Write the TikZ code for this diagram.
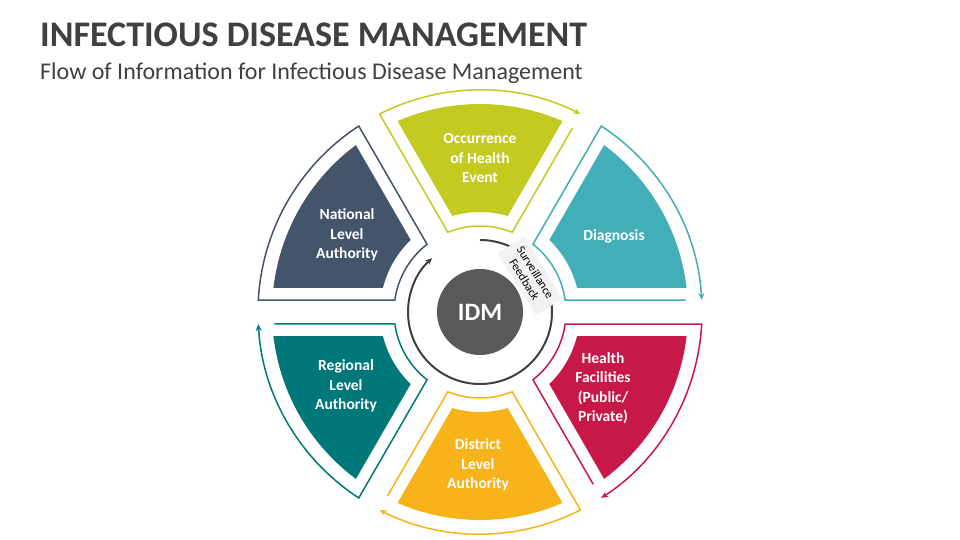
\documentclass[tikz,border=0pt]{standalone}
\usepackage{fontspec}
\setmainfont{Carlito}
\usetikzlibrary{arrows.meta,calc}
\definecolor{cOcc}{RGB}{195,203,33}
\definecolor{cDia}{RGB}{65,174,184}
\definecolor{cHea}{RGB}{200,24,74}
\definecolor{cDis}{RGB}{248,179,27}
\definecolor{cReg}{RGB}{0,120,122}
\definecolor{cNat}{RGB}{68,84,106}
\definecolor{idmgray}{RGB}{89,89,89}
\definecolor{ringgray}{RGB}{64,64,64}
\definecolor{titlegray}{RGB}{64,64,64}
\definecolor{boxgray}{RGB}{242,242,242}
\tikzset{
  seglabel/.style={text=white, align=center, font=\bfseries\fontsize{15.5}{19.5}\selectfont, inner sep=0},
  outline/.style={line width=1.5pt, -{Stealth[length=7pt,width=6pt]}},
}
\begin{document}
\begin{tikzpicture}[x=1pt,y=1pt]
\useasboundingbox (0,0) rectangle (960,-540);
\fill[white] (0,0) rectangle (960,-540);
\node[anchor=base west, font=\bfseries\fontsize{36}{40}\selectfont, text=titlegray, inner sep=0] (title) at (40,-47) {INFECTIOUS DISEASE MANAGEMENT};
\node[anchor=base west, font=\fontsize{24}{28}\selectfont, text=titlegray, inner sep=0] (subtitle) at (40,-80) {Flow of Information for Infectious Disease Management};
\begin{scope}[shift={(480,-312)}]
\foreach \c/\col in {90/cOcc,30/cDia,-30/cHea,-90/cDis,-150/cReg,150/cNat} {
  \fill[\col] (\c+30-6.63:208pt) arc[start angle=\c+30-6.63, end angle=\c-30+6.63, radius=208pt]
     -- (\c-30+13.89:100pt) arc[start angle=\c-30+13.89, end angle=\c+30-13.89, radius=100pt] -- cycle;
}
\foreach \c/\col in {90/cOcc,30/cDia,-30/cHea,-90/cDis,-150/cReg} {
  \draw[\col, outline] (\c-30+3.31:206pt) -- (\c-30+8.02:86pt)
     arc[start angle=\c-30+8.02, end angle=\c+30-8.02, radius=86pt]
     -- (\c+30-3.10:222pt)
     arc[start angle=\c+30-3.10, end angle=\c-30+3.10, radius=222pt];
}
\draw[cNat, line width=1.5pt, line join=miter] (150-30+3.10:222pt) -- (150-30+8.02:86pt)
     arc[start angle=150-30+8.02, end angle=150+30-8.02, radius=86pt]
     -- (150+30-3.10:222pt)
     arc[start angle=150+30-3.10, end angle=150-30+3.10, radius=222pt] -- cycle;
\draw[ringgray, line width=2pt, -{Stealth[length=7pt,width=6pt]}] (90:72pt) arc[start angle=90, end angle=-228.4, radius=72pt];
\node[circle, fill=idmgray, minimum size=86pt, inner sep=0, text=white, font=\bfseries\fontsize{25}{30}\selectfont] (idm) at (0,0) {IDM};
\node[fill=boxgray, rotate=-58, align=center, font=\fontsize{12}{13}\selectfont, inner xsep=7pt, inner ysep=5pt] (fb) at (50,36) {Surveillance\\Feedback};
\node[seglabel] (occ) at (0,154) {Occurrence\\of Health\\Event};
\node[seglabel] (dia) at (134,76) {Diagnosis};
\node[seglabel] (hea) at (123,-76) {Health\\Facilities\\(Public/\\Private)};
\node[seglabel] (dis) at (-2,-153) {District\\Level\\Authority};
\node[seglabel] (reg) at (-134,-74) {Regional\\Level\\Authority};
\node[seglabel] (nat) at (-133,77) {National\\Level\\Authority};
\end{scope}
\end{tikzpicture}
\end{document}
